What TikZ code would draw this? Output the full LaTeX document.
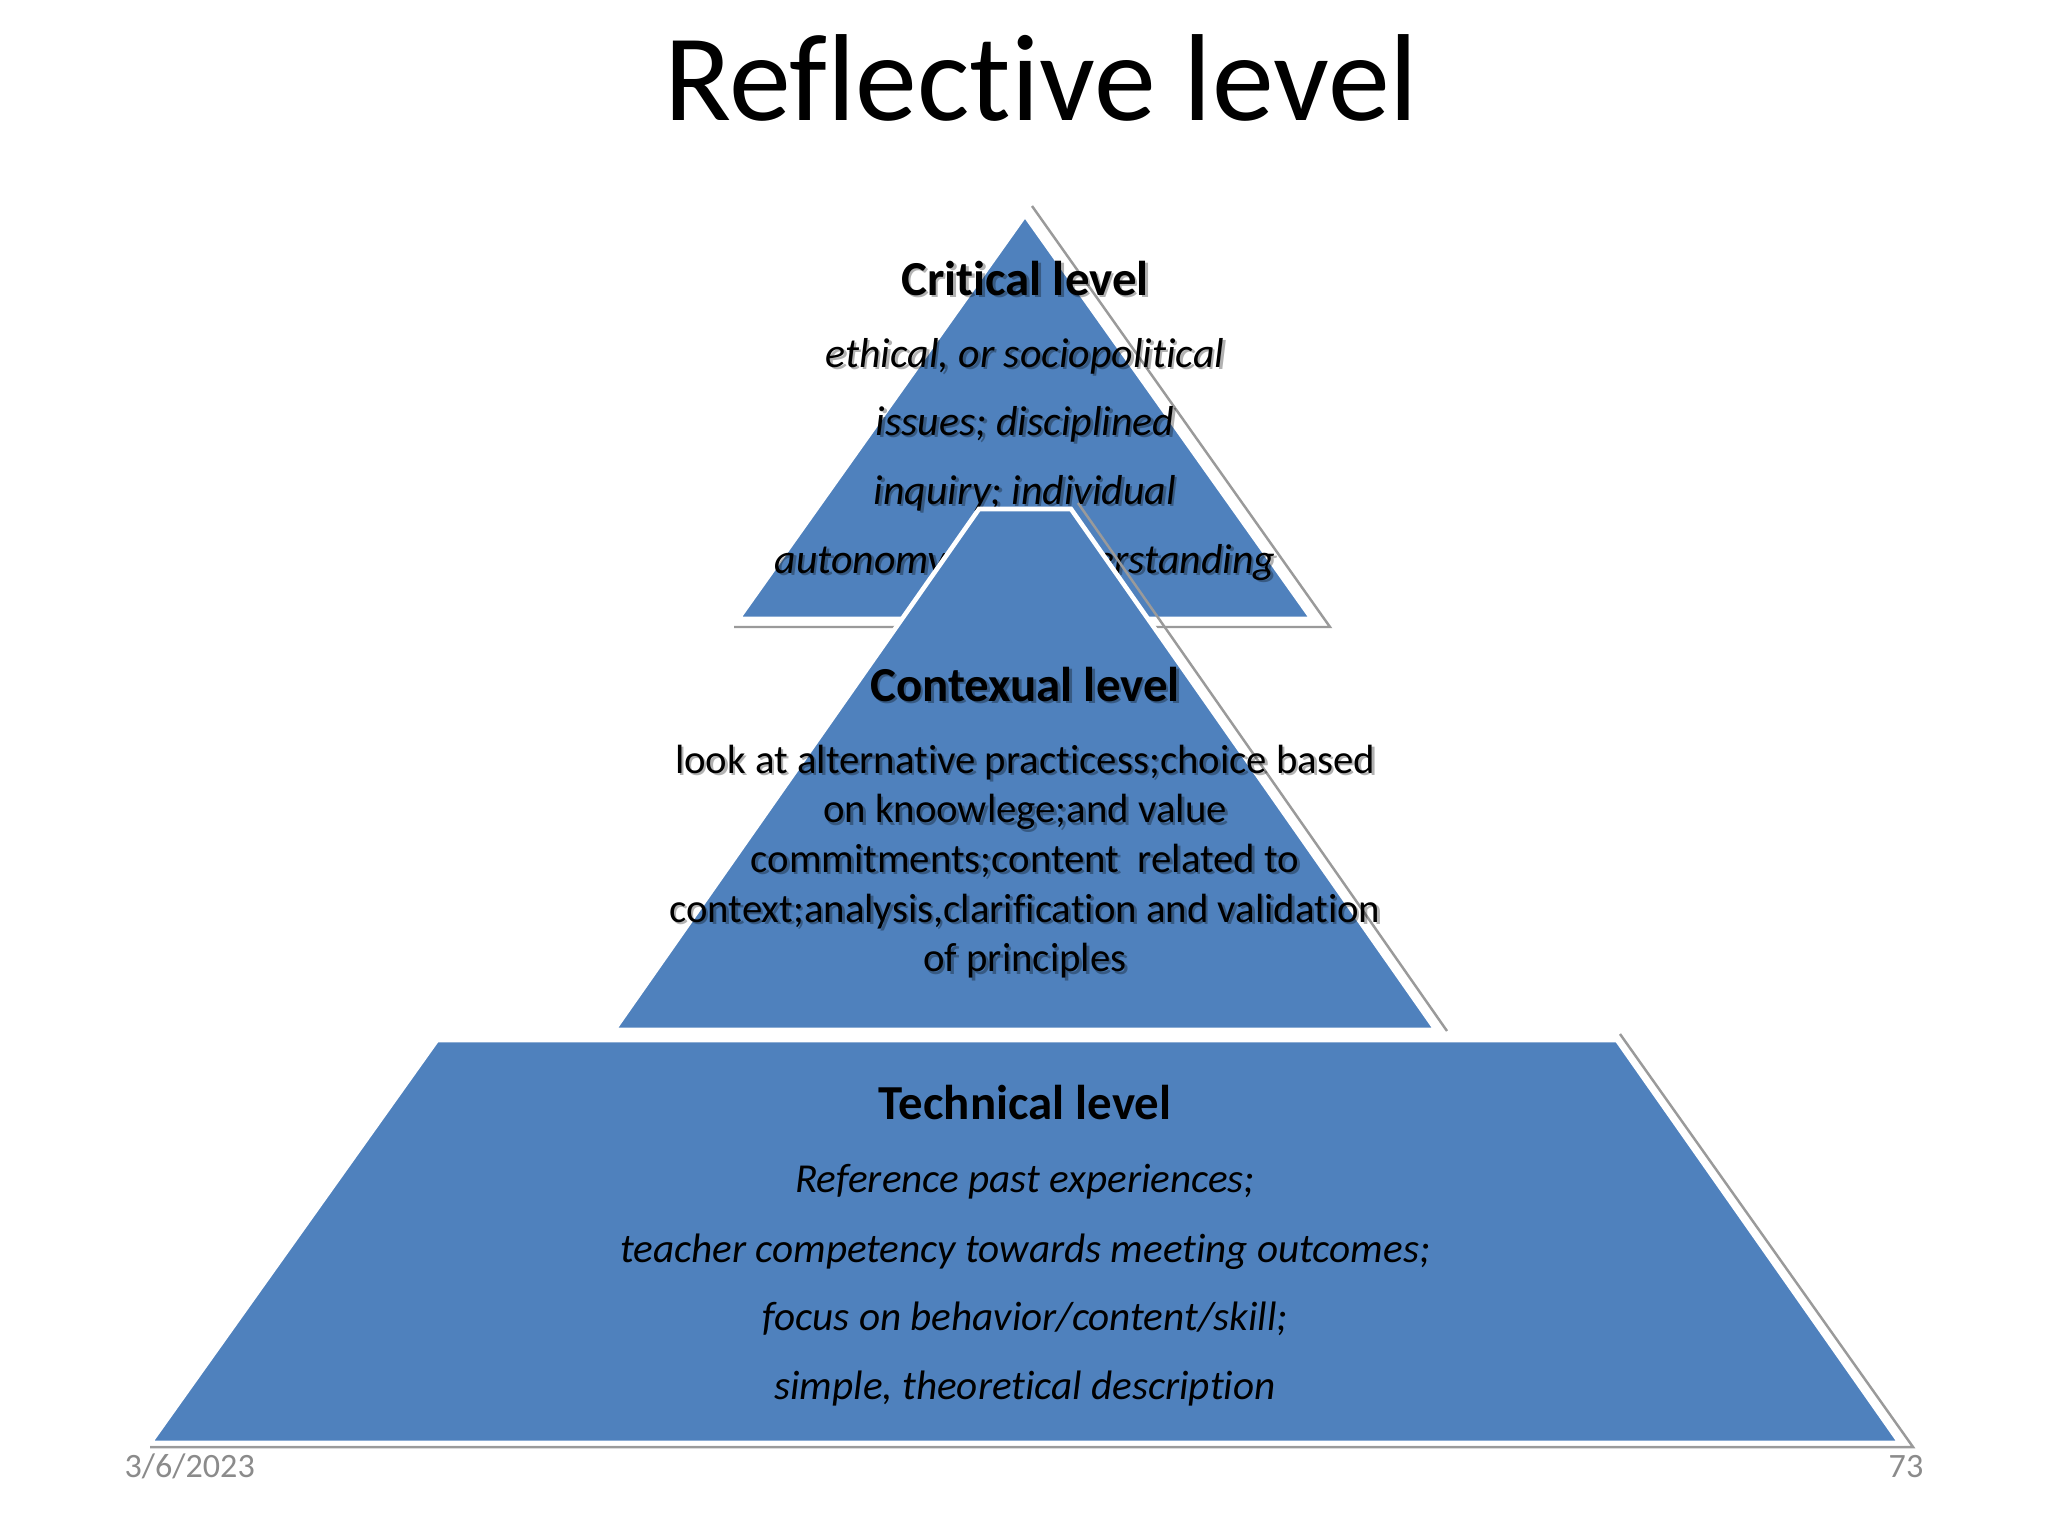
\documentclass[tikz,border=0pt]{standalone}
\usepackage{fontspec}
\setmainfont{Carlito}[Ligatures=NoCommon]
\usetikzlibrary{calc}
\definecolor{pblue}{HTML}{4F81BD}
\definecolor{shgray}{HTML}{9A9A9A}
\definecolor{footgray}{HTML}{8B8B8B}
\newcommand\shnode[4]{%
  \node[#3, text=black, text opacity=0.3] (#1s) at ($(#2)+(2.5,2.5)$) {#4};
  \node[#3] (#1) at (#2) {#4};}
\begin{document}
\begin{tikzpicture}[x=0.01cm,y=-0.01cm,
  lvl/.style={fill=pblue, draw=white, line width=1.3pt, line join=miter},
  shad/.style={draw=shgray, line width=0.7pt},
  head/.style={font=\fontsize{13.9}{16}\selectfont\bfseries, anchor=base, inner sep=0},
  itl/.style={font=\fontsize{11.9}{15}\selectfont\itshape, anchor=base, inner sep=0},
  itlb/.style={font=\fontsize{11.7}{15}\selectfont\itshape, anchor=base, inner sep=0},
  body/.style={font=\fontsize{11.6}{14}\selectfont, anchor=base, inner sep=0},
  foot/.style={font=\fontsize{9.7}{11}\selectfont, text=footgray, inner sep=0}]
\fill[white] (0,0) rectangle (2048,1536);
\useasboundingbox (0,0) rectangle (2048,1536);

% top triangle
\draw[shad] (1032,206) -- (1330,627) -- (734,627);
\draw[lvl] (1025,215) -- (1312,619) -- (738,619) -- cycle;
\shnode{crit}{1025,295}{head}{Critical level}
\shnode{cr1}{1025,367}{itl}{ethical, or sociopolitical}
\shnode{cr2}{1025,435}{itl}{issues; disciplined}
\shnode{cr3}{1025,504}{itl}{inquiry; individual}
\shnode{cr4}{1025,573}{itl}{autonomy and understanding}

% middle trapezoid
\draw[shad] (1078,503) -- (1447,1031);
\draw[lvl] (979,509) -- (1071,509) -- (1436,1030) -- (614,1030) -- cycle;
\shnode{ctx}{1025,701}{head}{Contexual level}
\shnode{cx1}{1025,773}{body}{look at alternative practicess;choice based}
\shnode{cx2}{1025,822.6}{body}{on knoowlege;and value}
\shnode{cx3}{1025,872}{body}{commitments;content\ \ related to}
\shnode{cx4}{1025,922}{body}{context;analysis,clarification and validation}
\shnode{cx5}{1025,971.5}{body}{of principles}

% bottom trapezoid
\draw[shad] (1620,1034) -- (1913,1447) -- (150,1447);
\draw[lvl] (437,1040) -- (1617,1040) -- (1900,1443) -- (150,1443) -- cycle;
\node[head] (tech) at (1025,1119) {Technical level};
\node[itlb] (t1) at (1025,1192) {Reference past experiences;};
\node[itlb] (t2) at (1025,1262) {teacher competency towards meeting outcomes;};
\node[itlb] (t3) at (1025,1330) {focus on behavior/content/skill;};
\node[itlb] (t4) at (1025,1399) {simple, theoretical description};

% title and footer
\node[font=\fontsize{35.2}{40}\selectfont, anchor=base, inner sep=0] (title) at (1041,120) {Reflective level};
\node[foot, anchor=base west] (date) at (124,1477) {3/6/2023};
\node[foot, anchor=base east] (page) at (1924,1477) {73};
\end{tikzpicture}
\end{document}
